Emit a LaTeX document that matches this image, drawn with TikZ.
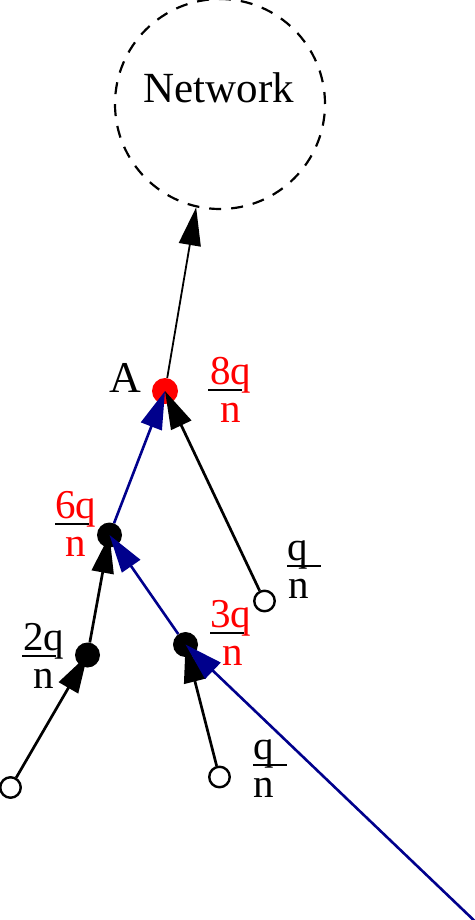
\documentclass[tikz,border=0pt]{standalone}
\usepackage{fontspec}
\setmainfont{Liberation Serif}
\usetikzlibrary{arrows.meta}
\definecolor{navy}{RGB}{0,0,140}
\newcommand\fracl[5]{%
  \vbox{\hbox to 34pt{\kern#4\textcolor{#1}{#2}\hss}\kern-4pt
        \hrule height 2.4pt width 34pt\kern 11.5pt
        \hbox to 34pt{\kern#5\textcolor{#1}{#3}\hss}}}
\tikzset{
  lbl/.style={inner sep=0pt, font=\fontsize{41}{46}\selectfont, anchor=base west},
  dot/.style={circle, fill=black, inner sep=0pt, minimum size=25pt},
  hollow/.style={circle, draw=black, fill=white, line width=2.4pt, inner sep=0pt, minimum size=20.5pt},
  blk/.style={draw=black, line width=2.7pt, -{Triangle[length=38pt,width=22pt]}},
  blu/.style={draw=navy, line width=2.6pt, -{Triangle[length=38pt,width=22pt]}},
}
\begin{document}
\begin{tikzpicture}[x=1pt,y=-1pt]
\useasboundingbox (0,0) rectangle (474,920);
\node[circle, draw, line width=2.2pt, dash pattern=on 12pt off 10pt, minimum size=210pt, inner sep=0pt] (net) at (220,104) {};
\node[font=\fontsize{43}{48}\selectfont, anchor=base, inner sep=0pt] (nettext) at (219,103) {Network};
\node[dot, fill=red, minimum size=26pt] (A) at (165,391) {};
\node[dot] (B) at (109.5,535) {};
\node[dot] (D) at (87.5,655) {};
\node[dot] (E) at (185.5,644.5) {};
\node[hollow] (C) at (264.5,601) {};
\node[hollow] (F) at (10.5,787.5) {};
\node[hollow] (G) at (219.5,777) {};
\coordinate (far) at (482,928);
\node[lbl, font=\fontsize{44}{48}\selectfont] (lA) at (109,392) {A};
\node[lbl] (f8) at (208,422) {\fracl{red}{8q}{n}{2pt}{12pt}};
\node[lbl] (f6) at (55,556) {\fracl{red}{6q}{n}{0pt}{10pt}};
\node[lbl] (fC) at (287,598) {\fracl{black}{q}{n}{0pt}{1pt}};
\node[lbl] (f2) at (22,688) {\fracl{black}{2q}{n}{1pt}{11pt}};
\node[lbl] (f3) at (210,665) {\fracl{red}{3q}{n}{0pt}{12pt}};
\node[lbl] (fG) at (253,797) {\fracl{black}{q}{n}{0pt}{0pt}};
\draw[blk, line width=1.8pt] (A) -- (net.257);
\draw[blu] (B) -- (A.center);
\draw[blk] (C) -- (A.center);
\draw[blk] (D) -- (B.center);
\draw[blu] (E) -- (B.center);
\draw[blk] (F) -- (D.center);
\draw[blk] (G) -- (E.center);
\draw[blu] (far) -- (E.center);
\end{tikzpicture}
\end{document}
